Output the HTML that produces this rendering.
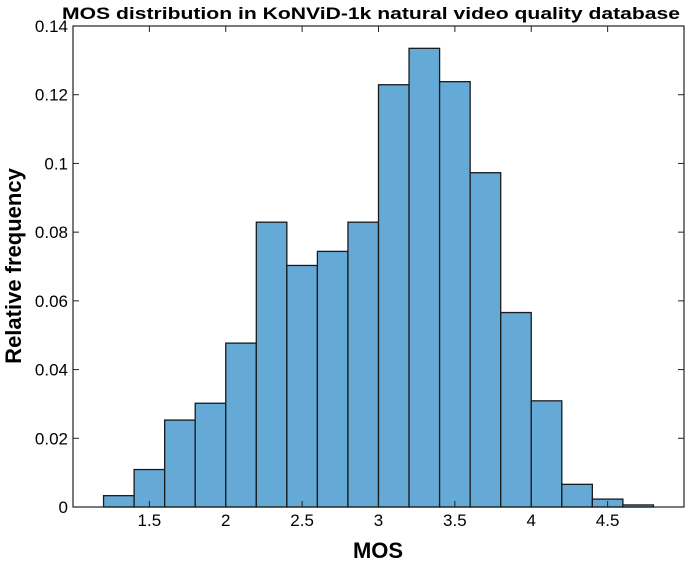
<!DOCTYPE html>
<html><head><meta charset="utf-8"><style>
html,body{margin:0;padding:0;background:#fff;}
svg{display:block;font-family:"Liberation Sans",Arial,sans-serif;}
</style></head><body>
<svg id="chart" width="685" height="564" viewBox="0 0 685 564">
<g id="bars"></g>
<g id="axes"></g>
<text x="371" y="19" font-size="17" font-weight="bold" text-anchor="middle" textLength="618" lengthAdjust="spacingAndGlyphs">MOS distribution in KoNViD-1k natural video quality database</text>
<text x="378" y="558" font-size="22" font-weight="bold" text-anchor="middle">MOS</text>
<text transform="translate(21,266) rotate(-90)" font-size="22" font-weight="bold" text-anchor="middle">Relative frequency</text>
</svg>
<script>
const binEdgesStart = [1.2,1.4,1.6,1.8,2.0,2.2,2.4,2.6,2.8,3.0,3.2,3.4,3.6,3.8,4.0,4.2,4.4,4.6];
const frequencies = [0.0033,0.0109,0.0253,0.0302,0.0477,0.0829,0.0703,0.0744,0.0829,0.1229,0.1335,0.1238,0.0973,0.0566,0.0309,0.0066,0.0023,0.0006];
const binWidth = 0.2;
const xTicks = [1.5,2,2.5,3,3.5,4,4.5];
const xTickLabels = ["1.5","2","2.5","3","3.5","4","4.5"];
const yTicks = [0,0.02,0.04,0.06,0.08,0.1,0.12,0.14];
const yTickLabels = ["0","0.02","0.04","0.06","0.08","0.1","0.12","0.14"];

const L=73,R=684,T=26,B=507,xmin=1,xmax=5,ymin=0,ymax=0.14;
const xs=v=>L+(v-xmin)/(xmax-xmin)*(R-L);
const ys=v=>B-(v-ymin)/(ymax-ymin)*(B-T);
const NS="http://www.w3.org/2000/svg";
function mk(tag,attrs,parent){const e=document.createElementNS(NS,tag);for(const k in attrs)e.setAttribute(k,attrs[k]);parent.appendChild(e);return e;}
const bars=document.getElementById('bars'),axes=document.getElementById('axes');
binEdgesStart.forEach((s,i)=>{
  const x0=xs(s),x1=xs(s+binWidth),y=ys(frequencies[i]);
  const r=mk('rect',{x:x0,y:y,width:x1-x0,height:B-y,fill:'#65a9d7',stroke:'#1a1a1a','stroke-width':1.3},bars);
  
  
});
const box=mk('rect',{x:L,y:T,width:R-L,height:B-T,fill:'none',stroke:'#222','stroke-width':1.2},axes);


xTicks.forEach((v,i)=>{
  const x=xs(v);
  mk('line',{x1:x,y1:B,x2:x,y2:B-6,stroke:'#222'},axes);
  mk('line',{x1:x,y1:T,x2:x,y2:T+6,stroke:'#222'},axes);
  const t=mk('text',{x:x,y:B+19,'font-size':17,'text-anchor':'middle'},axes);
  t.textContent=xTickLabels[i];
  
  
});
yTicks.forEach((v,i)=>{
  const y=ys(v);
  mk('line',{x1:L,y1:y,x2:L+6,y2:y,stroke:'#222'},axes);
  mk('line',{x1:R,y1:y,x2:R-6,y2:y,stroke:'#222'},axes);
  const t=mk('text',{x:L-5,y:y+6,'font-size':17,'text-anchor':'end'},axes);
  t.textContent=yTickLabels[i];
  
  
});
</script>
</body></html>
